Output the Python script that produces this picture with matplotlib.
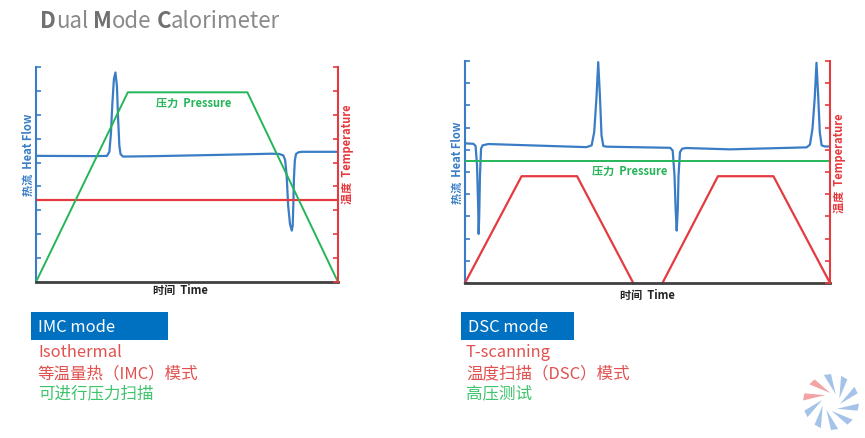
import matplotlib
matplotlib.use('Agg')
import matplotlib.pyplot as plt
from matplotlib.patches import Rectangle, Polygon
import numpy as np

W, H = 865, 439
plt.rcParams['font.family'] = ['Noto Sans CJK SC', 'DejaVu Sans']

BLUE = '#3A7DC6'
RED = '#E53A3F'
GREEN = '#25B559'
AXIS_DARK = '#404040'
BOX_BLUE = '#0070C0'
TXT_RED = '#E0514F'
TXT_GREEN = '#3DC46C'

# ---------------- IMC (isothermal) chart data ----------------
imc_time = [0, 20, 23.5, 24.3, 24.8, 25.3, 25.8, 26.3, 26.8, 27.2, 27.6, 28.0, 28.8,
            40, 60, 78, 80.5, 81.9, 82.5, 83.0, 83.5, 84.1, 84.7, 85.0, 85.2, 85.4,
            85.7, 86.1, 86.9, 88.0, 100]
imc_heat = [5.28, 5.27, 5.28, 5.45, 6.2, 7.5, 8.5, 8.77, 8.2, 6.8, 5.7, 5.35, 5.25,
            5.27, 5.32, 5.37, 5.36, 5.3, 5.1, 4.45, 3.19, 2.43, 2.15, 2.36, 3.19, 4.31,
            5.08, 5.36, 5.43, 5.45, 5.45]
imc_press_time = [0, 30.4, 70.0, 100]
imc_press = [0, 7.94, 7.94, 0]
imc_temp_time = [0, 100]
imc_temp = [3.44, 3.44]
imc_xticks = [0, 33.3, 66.7, 100]
imc_yticks = [0, 1, 2, 3, 4, 5, 6, 7, 8, 9]

# ---------------- DSC (T-scanning) chart data ----------------
dsc_time = [0, 2.3, 2.9, 3.3, 3.6, 3.74, 3.9, 4.1, 4.4, 4.8, 6.4, 17.8, 33.3,
            34.7, 35.4, 36.0, 36.5, 37.0, 37.4, 37.9, 38.8, 56.2, 56.9, 57.4, 57.7,
            58.0, 58.3, 58.5, 58.9, 59.5, 60.7, 72.6, 93.6, 94.5, 95.2, 95.8, 96.3,
            96.8, 97.2, 97.7, 98.6, 100]
dsc_heat = [6.29, 6.27, 6.17, 5.29, 3.49, 2.21, 3.04, 4.84, 6.05, 6.2, 6.26, 6.2, 6.12,
            6.2, 6.8, 8.3, 9.95, 8.3, 6.65, 6.17, 6.14, 6.09, 5.97, 4.84, 3.34,
            2.36, 3.34, 4.84, 5.89, 6.05, 6.08, 6.02, 6.11, 6.23, 6.95, 8.3, 9.92,
            8.3, 6.8, 6.2, 6.15, 6.15]
dsc_press_time = [0, 100]
dsc_press = [5.49, 5.49]
dsc_temp1_time = [0, 15.5, 30.7, 46.1]
dsc_temp1 = [0, 4.81, 4.81, 0]
dsc_temp2_time = [54.1, 69.3, 84.5, 100]
dsc_temp2 = [0, 4.81, 4.81, 0]
dsc_xticks = [0, 21.7, 47.9, 74.0, 100]
dsc_yticks = [0, 1, 2, 3, 4, 5, 6, 7, 8, 9, 10]

fig = plt.figure(figsize=(W / 100, H / 100), dpi=100)


def add_axes_px(x0, y0, x1, y1, **kw):
    return fig.add_axes([x0 / W, 1 - y1 / H, (x1 - x0) / W, (y1 - y0) / H], **kw)


def ftext(x, y, s, **kw):
    return fig.text(x / W, 1 - y / H, s, **kw)


def style_axes(ax, ymax, yticks, xticks):
    ax.set_xlim(0, 100)
    ax.set_ylim(0, ymax)
    ax.set_xticks(xticks)
    ax.set_yticks(yticks)
    ax.patch.set_alpha(0)
    ax.spines['top'].set_visible(False)
    ax.spines['right'].set_visible(False)
    ax.spines['left'].set_color(BLUE)
    ax.spines['left'].set_linewidth(1.5)
    ax.spines['bottom'].set_color(AXIS_DARK)
    ax.spines['bottom'].set_linewidth(2.0)
    ax.spines['bottom'].set_zorder(5)
    ax.tick_params(axis='y', direction='in', length=3.5, width=1.2, colors=BLUE,
                   labelleft=False)
    ax.tick_params(axis='x', direction='in', length=3.5, width=1.5, colors=AXIS_DARK,
                   labelbottom=False)
    ax2 = ax.twinx()
    ax2.set_ylim(0, ymax)
    ax2.set_yticks(yticks)
    for s in ['top', 'left', 'bottom']:
        ax2.spines[s].set_visible(False)
    ax2.spines['right'].set_color(RED)
    ax2.spines['right'].set_linewidth(1.5)
    ax2.tick_params(axis='y', direction='in', length=3.5, width=1.2, colors=RED,
                    labelright=False)
    ax2.set_xticks([])
    return ax2


# ---------------- Left chart ----------------
axL = add_axes_px(36, 68, 338, 283)
axL2 = style_axes(axL, 9, imc_yticks, imc_xticks)
axL.plot(imc_time, imc_heat, color=BLUE, lw=1.6, zorder=2, solid_joinstyle='round')
axL.plot(imc_temp_time, imc_temp, color=RED, lw=1.6, zorder=3)
axL.plot(imc_press_time, imc_press, color=GREEN, lw=1.4, zorder=4)

lab_kw = dict(fontsize=8, fontweight='bold', ha='center', va='center')
ftext(194, 103, '压力  Pressure', color=GREEN, **lab_kw)
ftext(28, 155, '热流  Heat Flow', color=BLUE, rotation=90, **lab_kw)
ftext(348, 154, '温度  Temperature', color=RED, rotation=90, **lab_kw)
ftext(180, 290, '时间  Time', color='#222222', **lab_kw)

# ---------------- Right chart ----------------
axR = add_axes_px(465, 62, 830, 284)
axR2 = style_axes(axR, 10, dsc_yticks, dsc_xticks)
axR.plot(dsc_time, dsc_heat, color=BLUE, lw=1.6, zorder=2, solid_joinstyle='round')
axR.plot(dsc_temp1_time, dsc_temp1, color=RED, lw=1.6, zorder=3, clip_on=False)
axR.plot(dsc_temp2_time, dsc_temp2, color=RED, lw=1.6, zorder=3, clip_on=False)
axR.plot(dsc_press_time, dsc_press, color=GREEN, lw=1.4, zorder=4)

ftext(630, 171, '压力  Pressure', color=GREEN, **lab_kw)
ftext(457, 163, '热流  Heat Flow', color=BLUE, rotation=90, **lab_kw)
ftext(840, 163, '温度  Temperature', color=RED, rotation=90, **lab_kw)
ftext(647, 295, '时间  Time', color='#222222', **lab_kw)

# ---------------- Overlay for decorations ----------------
ov = fig.add_axes([0, 0, 1, 1], zorder=-1)
ov.set_xlim(0, W)
ov.set_ylim(H, 0)
ov.axis('off')
ov.patch.set_alpha(0)

ov.add_patch(Rectangle((31, 313), 137, 28, facecolor=BOX_BLUE, edgecolor='none'))
ov.add_patch(Rectangle((461, 313), 113, 28, facecolor=BOX_BLUE, edgecolor='none'))

body_kw = dict(fontsize=11.9, ha='left', va='center')
ftext(38, 327, 'IMC mode', color='white', **body_kw)
ftext(38, 353, 'Isothermal', color=TXT_RED, **body_kw)
ftext(38, 374, '等温量热（IMC）模式', color=TXT_RED, **body_kw)
ftext(38, 394, '可进行压力扫描', color=TXT_GREEN, **body_kw)

ftext(468, 327, 'DSC mode', color='white', **body_kw)
ftext(466, 353, 'T-scanning', color=TXT_RED, **body_kw)
ftext(466, 374, '温度扫描（DSC）模式', color=TXT_RED, **body_kw)
ftext(466, 394, '高压测试', color=TXT_GREEN, **body_kw)

# logo (pinwheel)
cx, cy = 831, 403
for k in range(10):
    phi = np.deg2rad(90 + 36 * k)
    col = '#F2A3A3' if k in (1, 2) else '#A5C3E8'
    r_out, r_in = 28, 9
    p1 = (cx + r_out * np.cos(phi), cy - r_out * np.sin(phi))
    p2 = (cx + r_out * np.cos(phi + 0.26), cy - r_out * np.sin(phi + 0.26))
    tip = (cx + r_in * np.cos(phi - 0.55), cy - r_in * np.sin(phi - 0.55))
    ov.add_patch(Polygon([p1, p2, tip], closed=True, facecolor=col, edgecolor='none'))

# ---------------- Title with bold initials ----------------
renderer = fig.canvas.get_renderer()
pieces = [('D', 'bold'), ('ual', 'normal'), (' ', None), ('M', 'bold'), ('ode', 'normal'),
          (' ', None), ('C', 'bold'), ('alorimeter', 'normal')]
tkw = dict(fontsize=16, va='baseline', ha='left', family=['Noto Sans CJK SC', 'DejaVu Sans'])
x = 40.0
sp = ftext(0, 0, 'x x', **tkw)
sp2 = ftext(0, 0, 'xx', **tkw)
space_w = sp.get_window_extent(renderer).width - sp2.get_window_extent(renderer).width
sp.remove()
sp2.remove()
for s, w in pieces:
    if w is None:
        x += space_w
        continue
    t = ftext(x, 28, s, fontweight=w, color='#707070' if w == 'bold' else '#8A8A8A', **tkw)
    x += t.get_window_extent(renderer).width

fig.savefig('out.png', dpi=100)
